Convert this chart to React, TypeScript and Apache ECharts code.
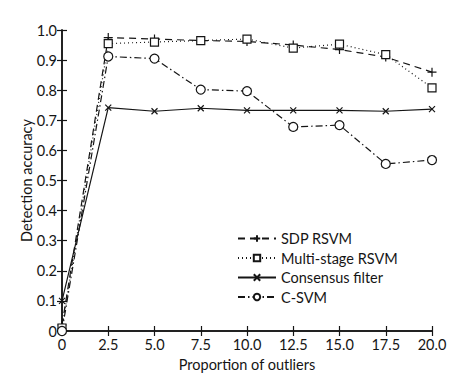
import React, { useEffect, useRef } from "react";
import * as echarts from "echarts";

const xValues = [0, 2.5, 5, 7.5, 10, 12.5, 15, 17.5, 20];
const sdpRsvm = [0.02, 0.975, 0.97, 0.965, 0.962, 0.95, 0.935, 0.91, 0.86];
const multiStage = [0.01, 0.955, 0.96, 0.965, 0.97, 0.94, 0.953, 0.918, 0.808];
const consensus = [0.1, 0.742, 0.73, 0.74, 0.733, 0.733, 0.733, 0.73, 0.737];
const cSvm = [0.0, 0.912, 0.905, 0.802, 0.797, 0.678, 0.684, 0.555, 0.568];
const seriesNames = ["SDP RSVM", "Multi-stage RSVM", "Consensus filter", "C-SVM"];

const FONT = "Lato";
const FS = 14.5;
const INK = "#151515";

const plusSym = "path://M5,0 L5,10 M0,5 L10,5";
const crossSym = "path://M0,0 L10,10 M10,0 L0,10";

const pairs = (ys: number[]) => xValues.map((x, i) => [x, ys[i]]);
const fmt = (v: number) => (v === 0 ? "0" : v.toFixed(1));

export default function App() {
  const ref = useRef<HTMLDivElement>(null);
  useEffect(() => {
    if (!ref.current) return;
    const chart = echarts.init(ref.current, undefined, { renderer: "svg" });
    const tickCommon = {
      axisLine: { show: true, lineStyle: { color: INK, width: 1.5 } },
      axisTick: { show: true, inside: true, length: 5, lineStyle: { color: INK, width: 1.2 } },
      splitLine: { show: false },
    };
    const lineBase = (name: string, ys: number[], type: any, symbol: string, size: number, fill: string) => ({
      name,
      type: "line",
      data: pairs(ys),
      symbol,
      symbolSize: size,
      showAllSymbol: true,
      lineStyle: { color: INK, width: 1.2, type },
      itemStyle: { color: fill, borderColor: INK, borderWidth: 1.2 },
      z: 3,
    });
    chart.setOption({
      animation: false,
      backgroundColor: "#fff",
      textStyle: { fontFamily: FONT },
      grid: { left: 62, right: 42, top: 30, bottom: 39, containLabel: false },
      legend: {
        orient: "vertical",
        left: 232,
        top: 226,
        itemWidth: 38,
        itemHeight: 8,
        itemGap: 4.5,
        data: seriesNames,
        textStyle: { fontFamily: FONT, fontSize: FS, color: INK },
      },
      xAxis: [
        {
          type: "value",
          min: 0,
          max: 20,
          interval: 2.5,
          name: "Proportion of outliers",
          nameLocation: "middle",
          nameGap: 26,
          nameMoveOverlap: false,
          nameTextStyle: { fontFamily: FONT, fontSize: FS, color: INK },
          axisLabel: { formatter: fmt, fontFamily: FONT, fontSize: FS, color: INK, margin: 6 },
          ...tickCommon,
        },
        {
          type: "value",
          position: "top",
          min: 0,
          max: 20,
          interval: 2.5,
          axisLabel: { show: false },
          ...tickCommon,
        },
      ],
      yAxis: [
        {
          type: "value",
          min: 0,
          max: 1,
          interval: 0.1,
          name: "Detection accuracy",
          nameLocation: "middle",
          nameGap: 28,
          nameMoveOverlap: false,
          nameTextStyle: { fontFamily: FONT, fontSize: FS, color: INK },
          axisLabel: { formatter: fmt, fontFamily: FONT, fontSize: FS, color: INK, margin: 5 },
          ...tickCommon,
        },
        {
          type: "value",
          position: "right",
          min: 0,
          max: 1,
          interval: 0.1,
          axisLabel: { show: false },
          ...tickCommon,
        },
      ],
      series: [
        lineBase(seriesNames[0], sdpRsvm, [7, 5], plusSym, 9, "none"),
        lineBase(seriesNames[1], multiStage, [1, 3], "rect", 8, "#fff"),
        lineBase(seriesNames[2], consensus, "solid", crossSym, 6, "none"),
        lineBase(seriesNames[3], cSvm, [7, 3, 1.5, 3], "circle", 9, "#fff"),
      ],
    });
    return () => chart.dispose();
  }, []);
  return <div ref={ref} style={{ width: 474, height: 377, position: "absolute", left: 0, top: 0 }} />;
}
